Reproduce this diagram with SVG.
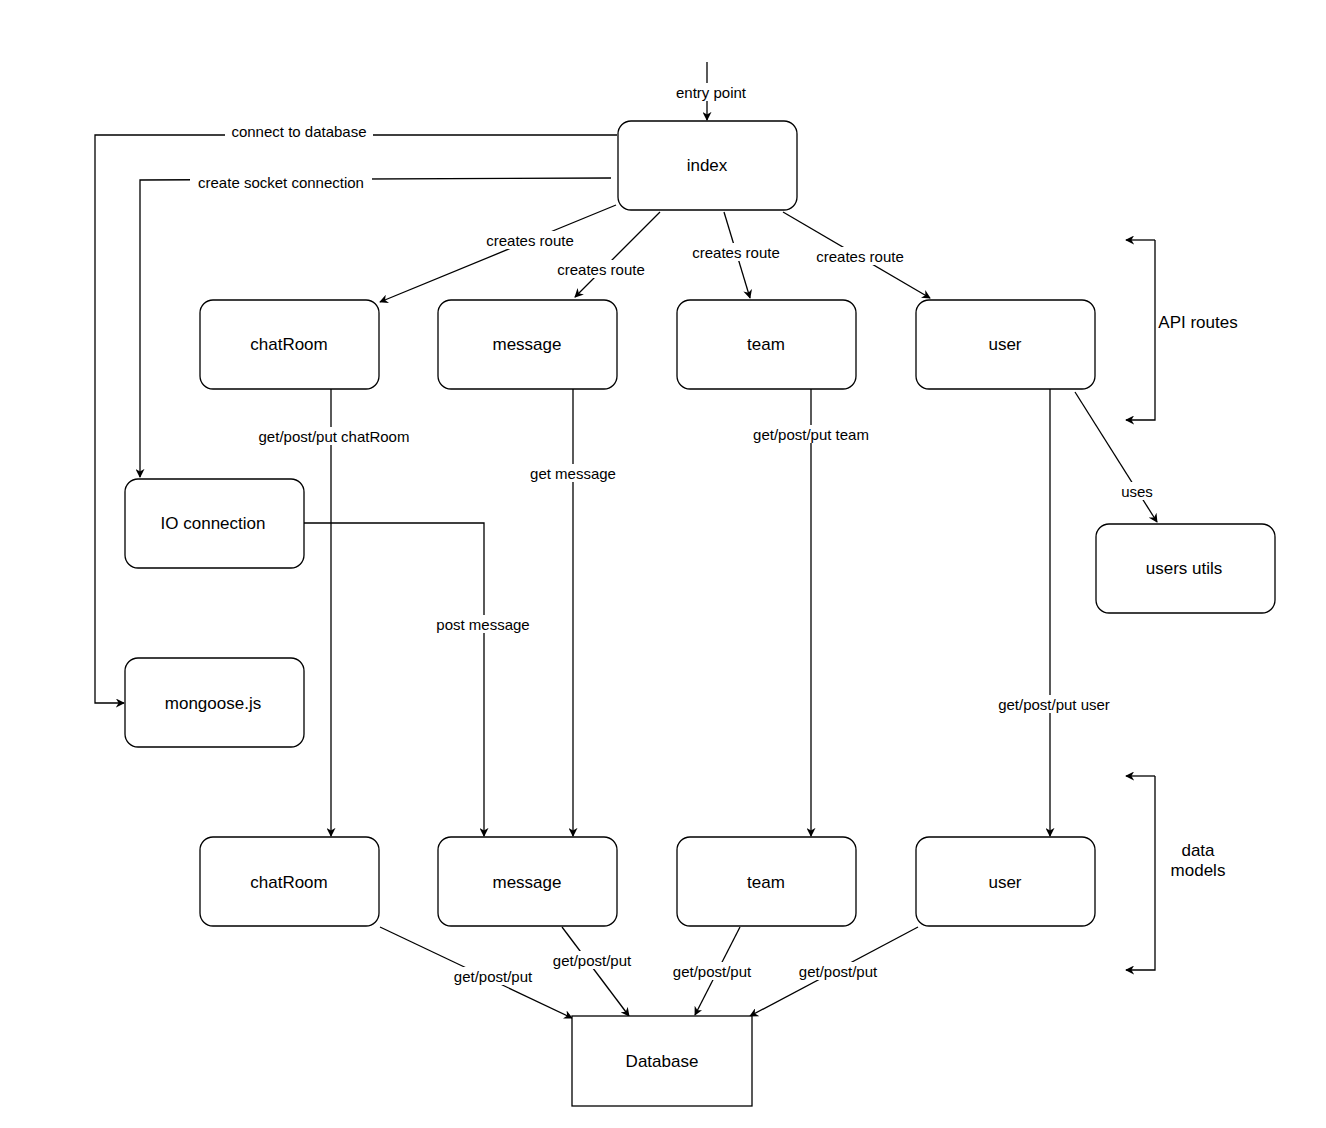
<svg xmlns="http://www.w3.org/2000/svg" width="1326" height="1128" viewBox="0 0 1326 1128">
<style>
.n{fill:#fff;stroke:#000;stroke-width:1.3}
.t{font-family:"Liberation Sans",Arial,sans-serif;font-size:17px;text-anchor:middle;dominant-baseline:central}
.l{font-family:"Liberation Sans",Arial,sans-serif;font-size:15px;text-anchor:middle;dominant-baseline:central}
.c{fill:none;stroke:#000;stroke-width:1.3;marker-end:url(#a)}
.bg{fill:#fff}
</style>
<defs><marker id="a" viewBox="0 0 10 10" refX="9" refY="5" markerWidth="9" markerHeight="9" orient="auto" markerUnits="userSpaceOnUse"><path d="M0,0 L10,5 L0,10 L3,5 Z" fill="#000"/></marker></defs>
<rect width="1326" height="1128" fill="#fff"/>
<g id="connectors">
<path class="c" d="M707,62 V120"/>
<path class="c" d="M617,135 H95 V703 H124"/>
<path class="c" d="M611,178 L140,180 V477"/>
<path class="c" d="M616,205 L380,302"/>
<path class="c" d="M660,212 L575,297"/>
<path class="c" d="M724,212 L750,298"/>
<path class="c" d="M783,212 L930,298"/>
<path class="c" d="M331,389 V836"/>
<path class="c" d="M573,389 V836"/>
<path class="c" d="M811,389 V836"/>
<path class="c" d="M1050,389 V836"/>
<path class="c" d="M1075,392 L1157,522"/>
<path class="c" d="M304,523 H484 V836"/>
<path class="c" d="M380,927 L572,1018"/>
<path class="c" d="M562,927 L629,1016"/>
<path class="c" d="M740,927 L695,1015"/>
<path class="c" d="M918,927 L750,1016"/>
<path class="c" d="M1155,240 H1126"/><path class="c" d="M1155,240 V420 H1126"/>
<path class="c" d="M1155,776 H1126"/><path class="c" d="M1155,776 V970 H1126"/>
<g>
<rect class="bg" x="670" y="83" width="82" height="18"/><text class="l" x="711" y="92">entry point</text>
<rect class="bg" x="225" y="122" width="148" height="18"/><text class="l" x="299" y="131">connect to database</text>
<rect class="bg" x="190" y="173" width="182" height="18"/><text class="l" x="281" y="182">create socket connection</text>
<rect class="bg" x="480" y="231" width="100" height="18"/><text class="l" x="530" y="240">creates route</text>
<rect class="bg" x="551" y="260" width="100" height="18"/><text class="l" x="601" y="269">creates route</text>
<rect class="bg" x="686" y="243" width="100" height="18"/><text class="l" x="736" y="252">creates route</text>
<rect class="bg" x="810" y="247" width="100" height="18"/><text class="l" x="860" y="256">creates route</text>
<rect class="bg" x="250" y="427" width="168" height="18"/><text class="l" x="334" y="436">get/post/put chatRoom</text>
<rect class="bg" x="525" y="464" width="96" height="18"/><text class="l" x="573" y="473">get message</text>
<rect class="bg" x="747" y="425" width="128" height="18"/><text class="l" x="811" y="434">get/post/put team</text>
<rect class="bg" x="990" y="695" width="128" height="18"/><text class="l" x="1054" y="704">get/post/put user</text>
<rect class="bg" x="1118" y="482" width="38" height="18"/><text class="l" x="1137" y="491">uses</text>
<rect class="bg" x="430" y="615" width="106" height="18"/><text class="l" x="483" y="624">post message</text>
<rect class="bg" x="448" y="967" width="90" height="18"/><text class="l" x="493" y="976">get/post/put</text>
<rect class="bg" x="547" y="951" width="90" height="18"/><text class="l" x="592" y="960">get/post/put</text>
<rect class="bg" x="667" y="962" width="90" height="18"/><text class="l" x="712" y="971">get/post/put</text>
<rect class="bg" x="793" y="962" width="90" height="18"/><text class="l" x="838" y="971">get/post/put</text>
<text class="t" x="1198" y="322">API routes</text>
<text class="t" x="1198" y="850">data</text><text class="t" x="1198" y="870">models</text>
</g>
</g>
<g id="index"><rect class="n" x="618" y="121" width="179" height="89" rx="13"/><text class="t" x="707" y="165">index</text></g>
<g id="chatRoomRoute"><rect class="n" x="200" y="300" width="179" height="89" rx="13"/><text class="t" x="289" y="344">chatRoom</text></g>
<g id="messageRoute"><rect class="n" x="438" y="300" width="179" height="89" rx="13"/><text class="t" x="527" y="344">message</text></g>
<g id="teamRoute"><rect class="n" x="677" y="300" width="179" height="89" rx="13"/><text class="t" x="766" y="344">team</text></g>
<g id="userRoute"><rect class="n" x="916" y="300" width="179" height="89" rx="13"/><text class="t" x="1005" y="344">user</text></g>
<g id="io"><rect class="n" x="125" y="479" width="179" height="89" rx="13"/><text class="t" x="213" y="523">IO connection</text></g>
<g id="mongoose"><rect class="n" x="125" y="658" width="179" height="89" rx="13"/><text class="t" x="213" y="703">mongoose.js</text></g>
<g id="usersUtils"><rect class="n" x="1096" y="524" width="179" height="89" rx="13"/><text class="t" x="1184" y="568">users utils</text></g>
<g id="chatRoomModel"><rect class="n" x="200" y="837" width="179" height="89" rx="13"/><text class="t" x="289" y="882">chatRoom</text></g>
<g id="messageModel"><rect class="n" x="438" y="837" width="179" height="89" rx="13"/><text class="t" x="527" y="882">message</text></g>
<g id="teamModel"><rect class="n" x="677" y="837" width="179" height="89" rx="13"/><text class="t" x="766" y="882">team</text></g>
<g id="userModel"><rect class="n" x="916" y="837" width="179" height="89" rx="13"/><text class="t" x="1005" y="882">user</text></g>
<g id="database"><rect class="n" x="572" y="1016" width="180" height="90"/><text class="t" x="662" y="1061">Database</text></g>
</svg>
